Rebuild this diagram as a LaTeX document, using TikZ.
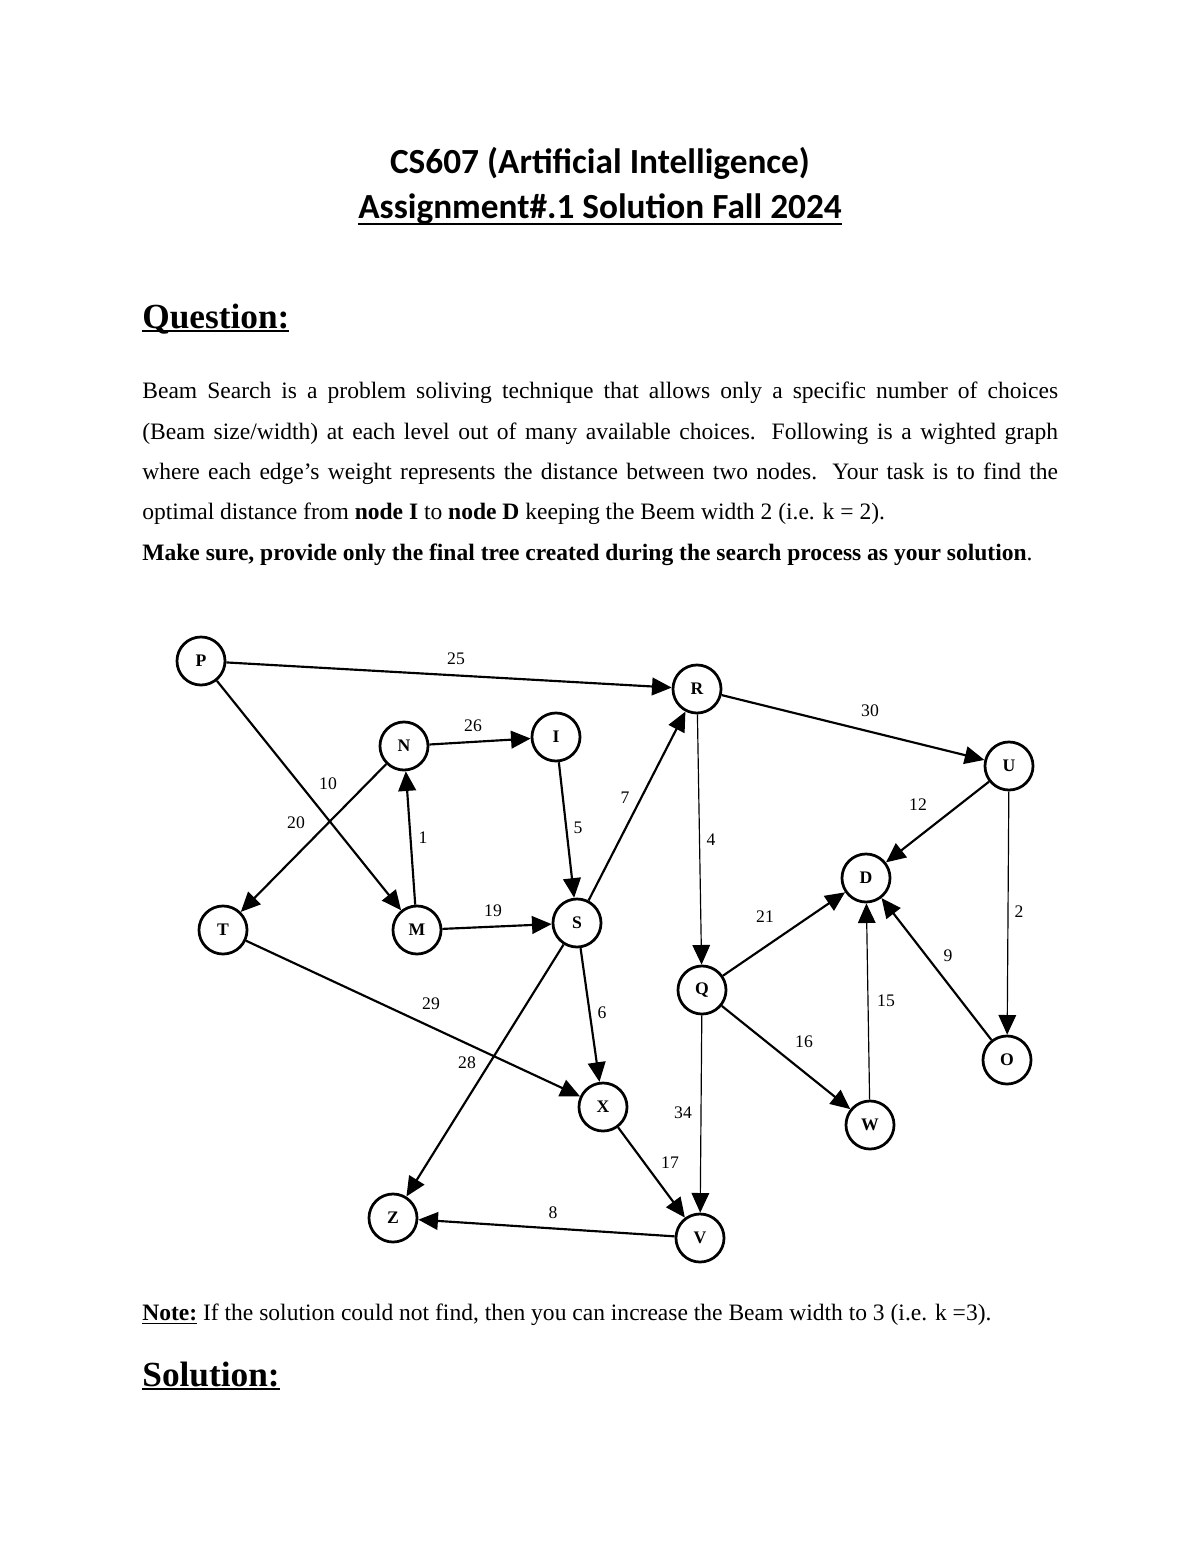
\documentclass[tikz,border=0pt]{standalone}
\usepackage{fontspec}
\setmainfont{Liberation Serif}
\newfontfamily\calibri{Carlito}
\usetikzlibrary{arrows.meta}
\newcommand\myul[3]{\setbox0=\hbox{#1}\rlap{\rule[-#2]{\wd0}{#3}}\box0}
\tikzset{
  vert/.style={circle,draw,line width=1.4pt,minimum size=24.5pt,inner sep=0pt,font=\fontsize{9}{10}\selectfont\bfseries},
  ed/.style={-{Triangle[length=10pt,width=9pt]},line width=1.1pt},
  edthin/.style={-{Triangle[length=10pt,width=9pt]},line width=0.6pt},
  wlab/.style={inner sep=0pt,font=\fontsize{9}{10}\selectfont},
  bodyline/.style={anchor=base west,inner sep=0pt,font=\fontsize{12}{14}\selectfont},
  head/.style={anchor=base west,inner sep=0pt,font=\fontsize{18}{20}\selectfont\bfseries},
  ttl/.style={anchor=base,inner sep=0pt,font=\calibri\fontsize{18}{20}\selectfont\bfseries}
}
\begin{document}
\begin{tikzpicture}[x=0.51pt,y=-0.51pt]
\path[use as bounding box] (0,0) rectangle (1200,1553);
% header
\node[ttl] (t1) at (600,174) {CS607 (Artificial Intelligence)};
\node[ttl] (t2) at (600,219) {\myul{Assignment\#.1 Solution Fall 2024}{3.2pt}{1pt}};
\node[head] (q) at (142,328) {\myul{Question:}{2.2pt}{1pt}};
\node[bodyline] (b1) at (142,398) {\makebox[467pt][s]{Beam Search is a problem soliving technique that allows only a specific number of choices}};
\node[bodyline] (b2) at (142,439) {\makebox[467pt][s]{(Beam size/width) at each level out of many available choices. Following is a wighted graph}};
\node[bodyline] (b3) at (142,479) {\makebox[467pt][s]{where each edge’s weight represents the distance between two nodes. Your task is to find the}};
\node[bodyline] (b4) at (142,519) {optimal distance from \textbf{node I} to \textbf{node D} keeping the Beem width 2 (i.e. k = 2).};
\node[bodyline] (b5) at (142,560) {\textbf{Make sure, provide only the final tree created during the search process as your solution}.};
\node[bodyline] (nt) at (142,1320) {\myul{\textbf{Note:}}{2pt}{0.6pt}\ If the solution could not find, then you can increase the Beam width to 3 (i.e. k =3).};
\node[head] (sol) at (142,1386) {\myul{Solution:}{2.2pt}{1pt}};
% vertices
\node[vert] (P) at (201,661) {P};
\node[vert] (R) at (697,689) {R};
\node[vert] (N) at (404,746) {N};
\node[vert] (I) at (556,737) {I};
\node[vert] (U) at (1009,766) {U};
\node[vert] (D) at (866,878) {D};
\node[vert] (T) at (223,930) {T};
\node[vert] (M) at (417,930) {M};
\node[vert] (S) at (577,923) {S};
\node[vert] (Q) at (702,990) {Q};
\node[vert] (O) at (1007,1060) {O};
\node[vert] (X) at (603,1107) {X};
\node[vert] (W) at (870,1125) {W};
\node[vert] (Z) at (393,1218) {Z};
\node[vert] (V) at (700,1238) {V};
% edges
\draw[ed] (P) -- (R);
\draw[ed] (P) -- (M);
\draw[ed] (N) -- (I);
\draw[ed] (N) -- (T);
\draw[ed] (M) -- (N);
\draw[ed] (I) -- (S);
\draw[ed] (M) -- (S);
\draw[ed] (S) -- (R);
\draw[ed] (R) -- (U);
\draw[edthin] (R) -- (Q);
\draw[ed] (U) -- (D);
\draw[edthin] (U) -- (O);
\draw[ed] (Q) -- (D);
\draw[edthin] (W) -- (D);
\draw[ed] (O) -- (D);
\draw[ed] (T) -- (X);
\draw[ed] (S) -- (Z);
\draw[ed] (S) -- (X);
\draw[ed] (Q) -- (W);
\draw[edthin] (Q) -- (V);
\draw[ed] (X) -- (V);
\draw[ed] (V) -- (Z);
% weights
\node[wlab] (w25) at (456,659) {25};
\node[wlab] (w26) at (473,726) {26};
\node[wlab] (w10) at (328,784) {10};
\node[wlab] (w20) at (296,823) {20};
\node[wlab] (w1) at (423,838) {1};
\node[wlab] (w5) at (578,828) {5};
\node[wlab] (w19) at (493,911) {19};
\node[wlab] (w7) at (625,798) {7};
\node[wlab] (w4) at (711,840) {4};
\node[wlab] (w30) at (870,711) {30};
\node[wlab] (w12) at (918,805) {12};
\node[wlab] (w2) at (1019,912) {2};
\node[wlab] (w21) at (765,917) {21};
\node[wlab] (w9) at (948,956) {9};
\node[wlab] (w15) at (886,1001) {15};
\node[wlab] (w29) at (431,1004) {29};
\node[wlab] (w28) at (467,1063) {28};
\node[wlab] (w6) at (602,1013) {6};
\node[wlab] (w16) at (804,1042) {16};
\node[wlab] (w34) at (683,1113) {34};
\node[wlab] (w17) at (670,1163) {17};
\node[wlab] (w8) at (553,1213) {8};
\end{tikzpicture}
\end{document}
